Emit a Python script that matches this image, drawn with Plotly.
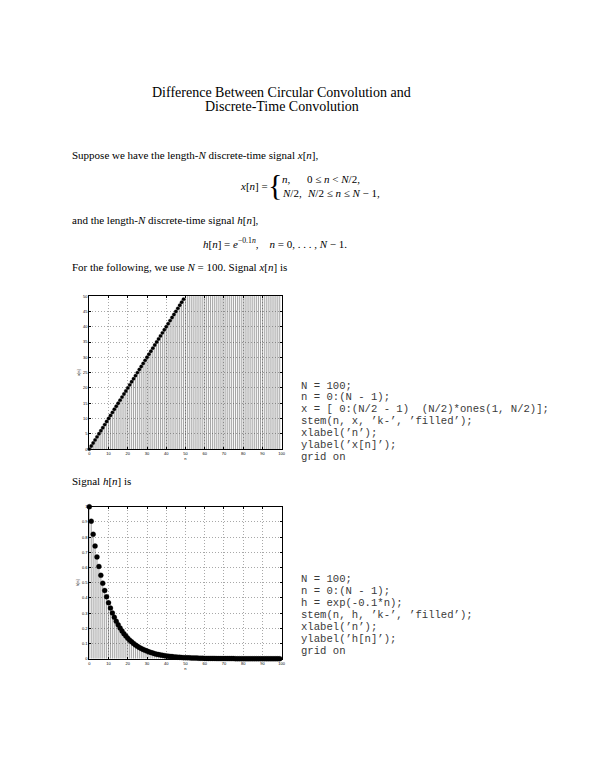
import plotly.graph_objects as go

# the page puts an 8px margin round the figure
OFF = 8
W, H = 600 - 2 * OFF, 776 - 2 * OFF

# signal values, n = 0 .. 99
n = list(range(100))
x_vals = [0, 1, 2, 3, 4, 5, 6, 7, 8, 9, 10, 11, 12, 13, 14, 15, 16, 17, 18, 19,
          20, 21, 22, 23, 24, 25, 26, 27, 28, 29, 30, 31, 32, 33, 34, 35, 36, 37, 38, 39,
          40, 41, 42, 43, 44, 45, 46, 47, 48, 49] + [50] * 50
h_vals = [1.000, 0.905, 0.819, 0.741, 0.670, 0.607, 0.549, 0.497, 0.449, 0.407,
          0.368, 0.333, 0.301, 0.273, 0.247, 0.223, 0.202, 0.183, 0.165, 0.150,
          0.135, 0.122, 0.111, 0.100, 0.091, 0.082, 0.074, 0.067, 0.061, 0.055,
          0.050, 0.045, 0.041, 0.037, 0.033, 0.030, 0.027, 0.025, 0.022, 0.020,
          0.018, 0.017, 0.015, 0.014, 0.012, 0.011, 0.010, 0.009, 0.008, 0.007,
          0.007, 0.006, 0.006, 0.005, 0.005, 0.004, 0.004, 0.003, 0.003, 0.003,
          0.002, 0.002, 0.002, 0.002, 0.002, 0.002, 0.001, 0.001, 0.001, 0.001,
          0.001, 0.001, 0.001, 0.001, 0.001, 0.001, 0.000, 0.000, 0.000, 0.000,
          0.000, 0.000, 0.000, 0.000, 0.000, 0.000, 0.000, 0.000, 0.000, 0.000,
          0.000, 0.000, 0.000, 0.000, 0.000, 0.000, 0.000, 0.000, 0.000, 0.000]

x_ticks = [0, 10, 20, 30, 40, 50, 60, 70, 80, 90, 100]
y1_ticks = [0, 5, 10, 15, 20, 25, 30, 35, 40, 45, 50]
y2_ticks = [0, 0.1, 0.2, 0.3, 0.4, 0.5, 0.6, 0.7, 0.8, 0.9, 1]

code_x = ["N = 100;", "n = 0:(N - 1);", "x = [ 0:(N/2 - 1)  (N/2)*ones(1, N/2)];",
          "stem(n, x, ’k-’, ’filled’);", "xlabel(’n’);", "ylabel(’x[n]’);", "grid on"]
code_h = ["N = 100;", "n = 0:(N - 1);", "h = exp(-0.1*n);",
          "stem(n, h, ’k-’, ’filled’);", "xlabel(’n’);", "ylabel(’h[n]’);", "grid on"]

SERIF = "Liberation Serif"
MONO = "Liberation Mono"
SANS = "Liberation Sans"


def px(x):
    return (x - OFF) / W


def py(y):
    return 1 - (y - OFF) / H


def stems(xs, ys):
    sx, sy = [], []
    for a, b in zip(xs, ys):
        sx += [a, a, None]
        sy += [0, b, None]
    return sx, sy


fig = go.Figure()

# markers sitting on the top edge of x[n] are hidden by the box, as in the original
for i, (vals, msize, ytop) in enumerate([(x_vals, 3.4, 50), (h_vals, 5, 1.01)]):
    suffix = "" if i == 0 else "2"
    sx, sy = stems(n, vals)
    keep = [v < ytop for v in vals]
    fig.add_trace(go.Scatter(x=sx, y=sy, mode="lines", line=dict(color="#333333", width=0.45),
                             xaxis="x" + suffix, yaxis="y" + suffix, hoverinfo="skip"))
    fig.add_trace(go.Scatter(x=[a for a, k in zip(n, keep) if k],
                             y=[v for v, k in zip(vals, keep) if k], mode="markers",
                             cliponaxis=False,
                             marker=dict(color="black", size=msize, opacity=1,
                                         line=dict(width=0.3, color="black")),
                             xaxis="x" + suffix, yaxis="y" + suffix))

axis_style = dict(showline=True, linecolor="black", linewidth=1, mirror="ticks",
                  ticks="inside", ticklen=2, tickcolor="black", tickwidth=0.6,
                  showgrid=True, gridcolor="#a8a8a8", griddash="1px,2px", gridwidth=0.6,
                  zeroline=False, tickfont=dict(family=SANS, size=4, color="black"))
title_font = dict(family=SANS, size=4, color="black")

fig.update_layout(
    width=W, height=H, margin=dict(l=0, r=0, t=0, b=0),
    paper_bgcolor="white", plot_bgcolor="white", showlegend=False,
    xaxis=dict(domain=[px(89), px(283)], range=[0, 100], tickvals=x_ticks, anchor="y",
               title=dict(text="n", font=title_font, standoff=2), **axis_style),
    yaxis=dict(domain=[py(449), py(295)], range=[0, 50], tickvals=y1_ticks, anchor="x",
               title=dict(text="x[n]", font=title_font, standoff=2), **axis_style),
    xaxis2=dict(domain=[px(89), px(283)], range=[0, 100], tickvals=x_ticks, anchor="y2",
                title=dict(text="n", font=title_font, standoff=2), **axis_style),
    yaxis2=dict(domain=[py(660), py(507)], range=[0, 1], tickvals=y2_ticks, anchor="x2",
                title=dict(text="h[n]", font=title_font, standoff=2), **axis_style),
)


def text(x, y, s, size=11, anchor="left", font=SERIF, color="black"):
    fig.add_annotation(x=px(x), y=py(y), xref="paper", yref="paper", text=s, showarrow=False,
                       xanchor=anchor, yanchor="middle",
                       font=dict(family=font, size=size, color=color))


text(283, 90, "Difference Between Circular Convolution and", 14, "center")
text(283, 104, "Discrete-Time Convolution", 14, "center")
text(70, 153, "Suppose we have the length-<i>N</i> discrete-time signal <i>x</i>[<i>n</i>],")
text(271, 184, "<i>x</i>[<i>n</i>] =", 11, "right")
text(276, 183, "{", 30, "center")
text(281, 177, "<i>n</i>,")
text(281, 191, "<i>N</i>/2,")
text(307, 177, "0 ≤ <i>n</i> < <i>N</i>/2,")
text(307, 191, "<i>N</i>/2 ≤ <i>n</i> ≤ <i>N</i> − 1,")
text(70, 218, "and the length-<i>N</i> discrete-time signal <i>h</i>[<i>n</i>],")
text(202, 242, "<i>h</i>[<i>n</i>] = <i>e</i><sup>−0.1<i>n</i></sup>,    <i>n</i> = 0, . . . , <i>N</i> − 1.")
text(70, 266, "For the following, we use <i>N</i> = 100. Signal <i>x</i>[<i>n</i>] is")
text(70, 481, "Signal <i>h</i>[<i>n</i>] is")

for k, line in enumerate(code_x):
    text(300, 385 + 12 * k, line, 10.6, font=MONO, color="#3a3a3a")
for k, line in enumerate(code_h):
    text(300, 580 + 12 * k, line, 10.6, font=MONO, color="#3a3a3a")

fig.write_html("out.html")
